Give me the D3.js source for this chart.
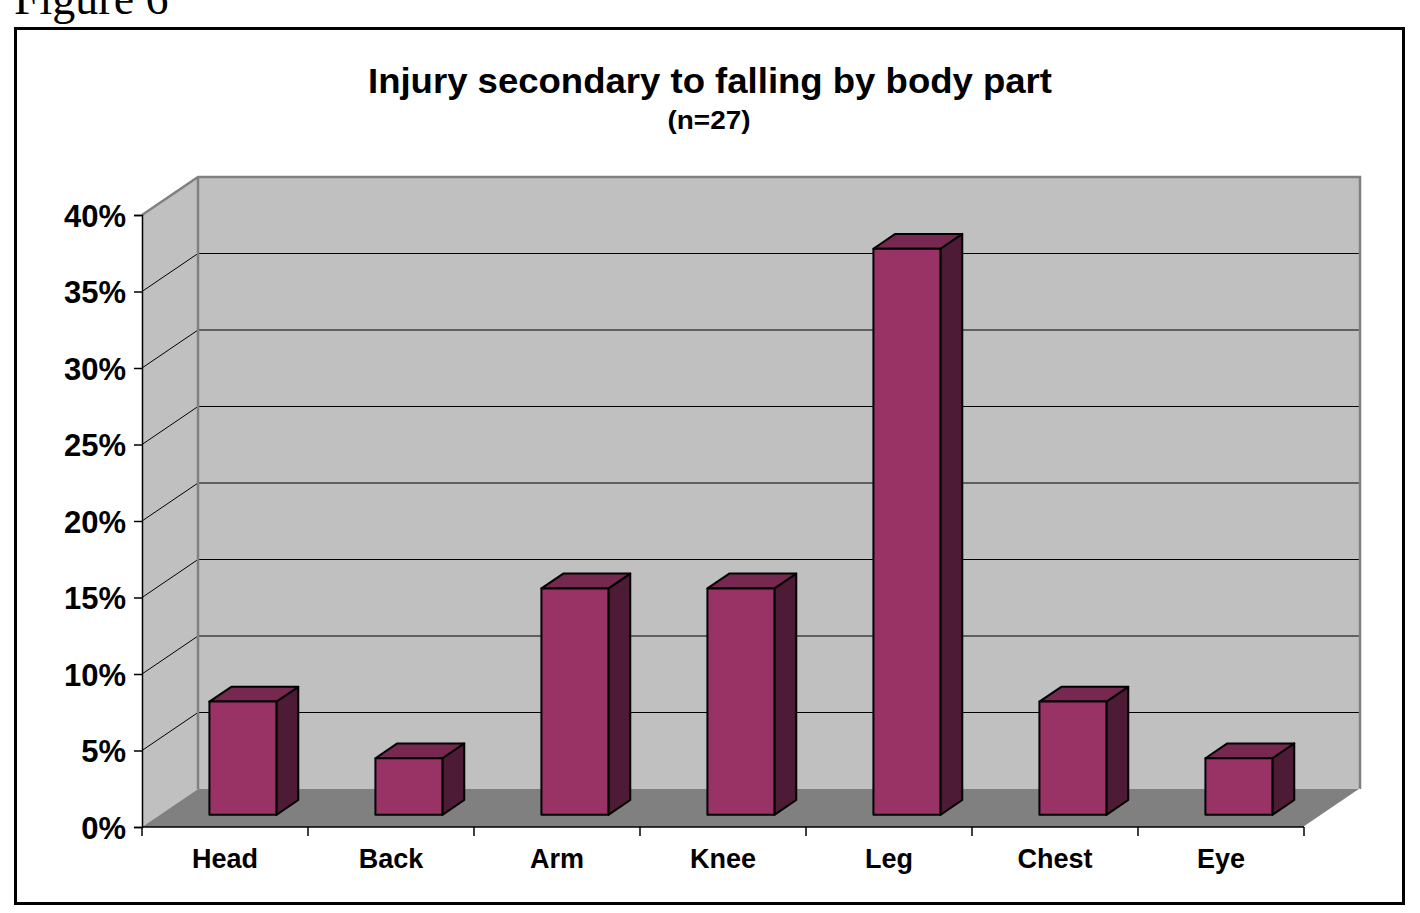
<!DOCTYPE html>
<html><head><meta charset="utf-8">
<script src="https://cdn.jsdelivr.net/npm/d3@7/dist/d3.min.js"></script>
<style>html,body{margin:0;padding:0;background:#fff;}svg{display:block;}</style>
</head><body>
<script>
const categories = ["Head","Back","Arm","Knee","Leg","Chest","Eye"];
const values = [7.4, 3.7, 14.8, 14.8, 37.0, 7.4, 3.7];
const yTicks = [0,5,10,15,20,25,30,35,40];
const title = "Injury secondary to falling by body part";
const subtitle = "(n=27)";
const figLabel = "Figure 6";

const W = 1420, H = 913;
const svg = d3.select("body").append("svg").attr("width", W).attr("height", H);
const sans = "Liberation Sans, Arial, sans-serif";

// frame + figure label
svg.append("text").attr("x", 14).attr("y", 14).attr("font-family", "Liberation Serif, Times New Roman, serif")
  .attr("font-size", 46).text(figLabel);
svg.append("rect").attr("x", 15.5).attr("y", 28.5).attr("width", 1388).attr("height", 875)
  .attr("fill", "#fff").attr("stroke", "#000").attr("stroke-width", 3);

const x0 = 142, x1 = 1304, dX = 56, dY = -38;
const y = d3.scaleLinear().domain([0, 40]).range([827, 215]);
const x = d3.scaleBand().domain(categories).range([x0, x1]);

const g = svg.append("g");
const gray = "#c0c0c0", dark = "#808080";

// left wall
g.append("polygon").attr("points", [[x0, y(40)], [x0 + dX, y(40) + dY], [x0 + dX, y(0) + dY], [x0, y(0)]].join(" "))
  .attr("fill", gray);
// back wall
g.append("rect").attr("x", x0 + dX).attr("y", y(40) + dY).attr("width", x1 - x0).attr("height", y(0) - y(40))
  .attr("fill", gray);
// floor
g.append("polygon").attr("points", [[x0, y(0)], [x0 + dX, y(0) + dY], [x1 + dX, y(0) + dY], [x1, y(0)]].join(" "))
  .attr("fill", dark);

// gridlines
yTicks.filter(t => t > 0 && t < 40).forEach(t => {
  g.append("line").attr("x1", x0).attr("y1", y(t)).attr("x2", x0 + dX).attr("y2", y(t) + dY)
    .attr("stroke", "#000").attr("stroke-width", 1);
  g.append("line").attr("x1", x0 + dX).attr("y1", y(t) + dY).attr("x2", x1 + dX).attr("y2", y(t) + dY)
    .attr("stroke", "#000").attr("stroke-width", 1.2);
});
// wall edges
g.append("polyline").attr("points", [[x0, y(40)], [x0 + dX, y(40) + dY], [x1 + dX, y(40) + dY], [x1 + dX, y(0) + dY]].join(" "))
  .attr("fill", "none").attr("stroke", dark).attr("stroke-width", 2.5);
g.append("line").attr("x1", x0 + dX).attr("y1", y(40) + dY).attr("x2", x0 + dX).attr("y2", y(0) + dY)
  .attr("stroke", dark).attr("stroke-width", 2.5);
g.append("line").attr("x1", x1).attr("y1", y(0)).attr("x2", x1 + dX).attr("y2", y(0) + dY)
  .attr("stroke", "#fff").attr("stroke-width", 1.5);

// bars
const fOff = 0.32, bD = 0.39, bw = 67;
const frontCol = "#993366", topCol = "#772850", sideCol = "#4e1b36";
categories.forEach((c, i) => {
  const cx = x(c) + x.bandwidth() / 2 + fOff * dX;
  const bx = cx - bw / 2;
  const by0 = y(0) + fOff * dY, byT = y(values[i]) + fOff * dY;
  const ddx = bD * dX, ddy = bD * dY;
  const bg = g.append("g").attr("stroke", "#000").attr("stroke-width", 2).attr("stroke-linejoin", "round");
  bg.append("polygon").attr("points", [[bx + bw, byT], [bx + bw + ddx, byT + ddy], [bx + bw + ddx, by0 + ddy], [bx + bw, by0]].join(" ")).attr("fill", sideCol);
  bg.append("polygon").attr("points", [[bx, byT], [bx + ddx, byT + ddy], [bx + bw + ddx, byT + ddy], [bx + bw, byT]].join(" ")).attr("fill", topCol);
  bg.append("rect").attr("x", bx).attr("y", byT).attr("width", bw).attr("height", by0 - byT).attr("fill", frontCol);
});

// axes
const yAxis = d3.axisLeft(y).tickValues(yTicks).tickSize(8).tickPadding(8).tickFormat(d => d + "%");
const ya = svg.append("g").attr("transform", `translate(${x0},0)`).call(yAxis);
ya.select(".domain").attr("stroke", "#000").attr("stroke-width", 1.5);
ya.selectAll(".tick line").attr("stroke", "#000").attr("stroke-width", 1.5);
ya.selectAll("text").attr("font-family", sans).attr("font-weight", "bold")
  .attr("font-size", 31).attr("fill", "#000").attr("dy", "0.36em");

const xa = svg.append("g").attr("transform", `translate(0,${y(0)})`);
xa.append("line").attr("x1", x0).attr("x2", x1).attr("stroke", "#000").attr("stroke-width", 1.5);
const edges = categories.map(c => x(c)).concat([x1]);
xa.selectAll(".tk").data(edges).enter().append("line").attr("x1", d => d).attr("x2", d => d)
  .attr("y1", 0).attr("y2", 9).attr("stroke", "#000").attr("stroke-width", 1.5);
xa.selectAll(".lb").data(categories).enter().append("text")
  .attr("x", d => x(d) + x.bandwidth() / 2).attr("y", 41).attr("text-anchor", "middle")
  .attr("font-family", sans).attr("font-weight", "bold").attr("font-size", 27)
  .text(d => d);

// titles
svg.append("text").attr("x", 710).attr("y", 93).attr("text-anchor", "middle")
  .attr("font-family", sans).attr("font-weight", "bold").attr("font-size", 35)
  .attr("textLength", 684).attr("lengthAdjust", "spacingAndGlyphs").text(title);
svg.append("text").attr("x", 709).attr("y", 129).attr("text-anchor", "middle")
  .attr("font-family", sans).attr("font-weight", "bold").attr("font-size", 25)
  .attr("textLength", 83).attr("lengthAdjust", "spacingAndGlyphs").text(subtitle);
</script>
</body></html>
